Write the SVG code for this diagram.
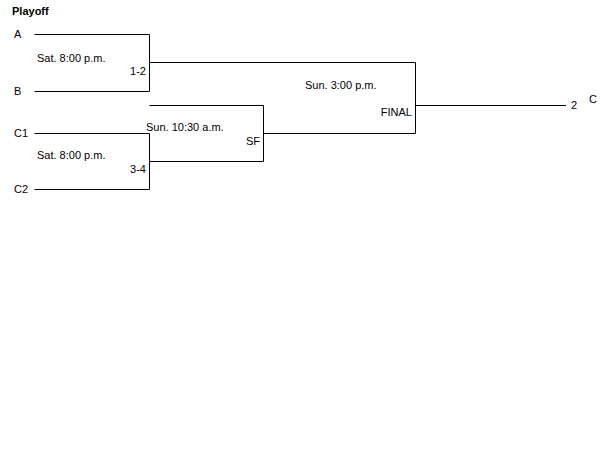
<svg xmlns="http://www.w3.org/2000/svg" width="600" height="475" viewBox="0 0 600 475">
<style>
text{font-family:"Liberation Sans",Arial,sans-serif;font-size:11px;fill:#000}
.r{text-anchor:end}
.b{font-weight:bold}
.ln{fill:none;stroke:#000;stroke-width:1}
</style>
<rect width="600" height="475" fill="#fff"/>
<text class="b" x="12" y="15">Playoff</text>
<g id="connectors">
<path class="ln" d="M34.5 34.5H149.5V91.5H34.5"/>
<path class="ln" d="M149.5 62.5H415.5V133.5H263.5"/>
<path class="ln" d="M149.5 105.5H263.5V161.5H149.5"/>
<path class="ln" d="M34.5 133.5H149.5V189.5H34.5"/>
<path class="ln" d="M415.5 105.5H566"/>
</g>
<g id="teamA"><text x="14" y="38">A</text></g>
<g id="teamB"><text x="14" y="95">B</text></g>
<g id="teamC1"><text x="14" y="137">C1</text></g>
<g id="teamC2"><text x="14" y="193">C2</text></g>
<g id="game12"><text x="37" y="62">Sat. 8:00 p.m.</text><text class="r" x="146" y="75">1-2</text></g>
<g id="game34"><text x="37" y="159">Sat. 8:00 p.m.</text><text class="r" x="146" y="173">3-4</text></g>
<g id="sf"><text x="146" y="131">Sun. 10:30 a.m.</text><text class="r" x="260" y="145">SF</text></g>
<g id="final"><text x="305" y="89">Sun. 3:00 p.m.</text><text class="r" x="412" y="116">FINAL</text></g>
<g id="winner"><text x="571" y="109">2</text><text x="589" y="103">C</text></g>
</svg>
